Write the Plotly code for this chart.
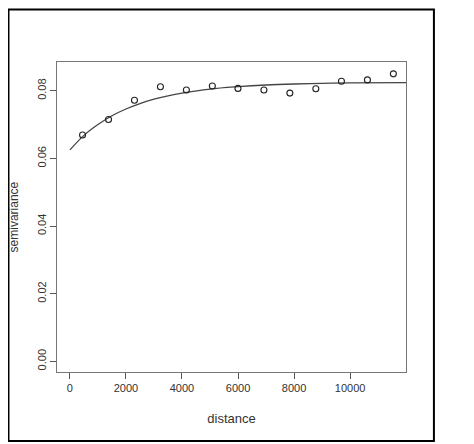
import plotly.graph_objects as go

# empirical semivariogram points
dist = [451, 1378, 2304, 3230, 4157, 5083, 5998, 6924, 7850, 8777, 9691, 10618, 11544]
gamma = [0.0669, 0.0715, 0.0772, 0.0812, 0.0802, 0.0814, 0.0807, 0.0802, 0.0793, 0.0806, 0.0828, 0.0832, 0.0850]

# fitted model line
fit_x = [0, 500, 1000, 1500, 2000, 2500, 3000, 3500, 4000, 5000, 6000, 7000, 8000, 9000, 10000, 12000]
fit_y = [0.0625, 0.0668, 0.0700, 0.0726, 0.0746, 0.0762, 0.0775, 0.0785, 0.0793, 0.0805, 0.0812, 0.0817, 0.0820, 0.0822, 0.0823, 0.0824]

x_ticks = [0, 2000, 4000, 6000, 8000, 10000]
x_labels = ["0", "2000", "4000", "6000", "8000", "10000"]
y_ticks = [0, 0.02, 0.04, 0.06, 0.08]

fig = go.Figure()
fig.add_trace(go.Scatter(x=fit_x, y=fit_y, mode="lines", line=dict(color="#444", width=1.3, shape="spline")))
fig.add_trace(go.Scatter(x=dist, y=gamma, mode="markers",
                         marker=dict(symbol="circle-open", size=6, color="#222", line=dict(width=1.1))))

font = dict(family="Liberation Sans, Arial", size=11, color="#333")
fig.update_layout(
    width=474, height=444, showlegend=False,
    margin=dict(l=49, r=76, t=54, b=80),
    plot_bgcolor="white", paper_bgcolor="white", font=font,
    shapes=[dict(type="rect", xref="paper", yref="paper", x0=-0.139, x1=1.080, y0=-0.2226, y1=1.169,
                 line=dict(color="black", width=2))],
    annotations=[dict(text="semivariance", textangle=-90, xref="paper", yref="paper", font=dict(size=12, color="#333"),
                      x=-0.122, y=0.5, showarrow=False, xanchor="center", yanchor="middle")],
)
fig.update_xaxes(range=[-461, 11995], tickvals=x_ticks, ticktext=x_labels,
                 showgrid=False, zeroline=False, showline=True, mirror=True, linecolor="#777",
                 ticks="outside", ticklen=6, tickcolor="#555",
                 title=dict(text="distance", standoff=20))
fig.update_yaxes(range=[-0.00316, 0.0885], tickvals=y_ticks, tickformat=".2f", automargin=False,
                 tickangle=-90, showgrid=False, zeroline=False, showline=True, mirror=True, linecolor="#777",
                 ticks="outside", ticklen=6, tickcolor="#555")
fig.write_html("out.html")
